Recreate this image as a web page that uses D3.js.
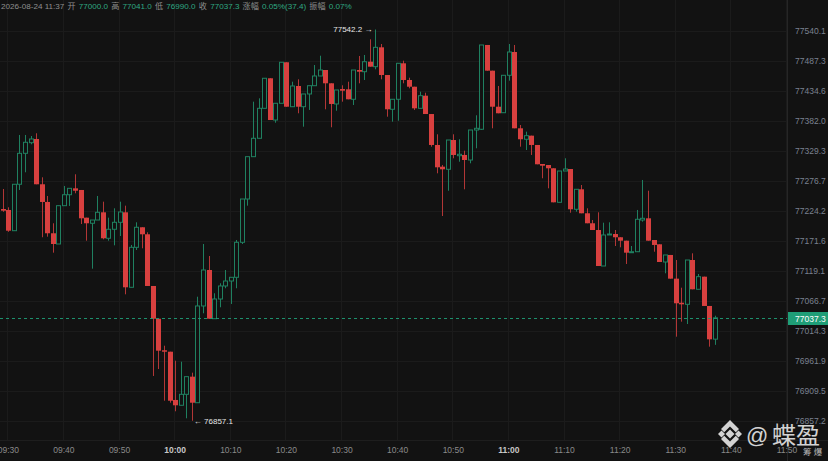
<!DOCTYPE html>
<html><head><meta charset="utf-8">
<script src="https://cdn.jsdelivr.net/npm/d3@7"></script>
<style>
html,body{margin:0;padding:0;background:#121212;}
svg{display:block;}
text{font-family:"Liberation Sans","Noto Sans CJK SC",sans-serif;}
</style></head>
<body><svg id="c" width="828" height="461"></svg>
<script>
// ---- data (1-minute candles, first at 09:29) ----
const startTime = "2026-08-24 09:29";
const opens = [77227.9,77226.2,77189.9,77271.2,77325.4,77344.0,77350.5,77271.2,77240.2,77185.4,
77166.6,77233.7,77252.9,77264.1,77261.2,77212.7,77202.9,77208.6,77222.1,77176.6,
77192.4,77204.6,77222.1,77090.8,77160.8,77195.9,77183.6,77093.1,77035.8,76980.5,
76978.0,76893.5,76884.2,76903.4,76934.3,76888.7,77058.1,77121.1,77035.8,77070.3,
77093.1,77101.8,77108.3,77169.6,77245.4,77319.5,77351.7,77404.2,77456.8,77383.7,
77413.0,77484.8,77407.0,77443.3,77407.0,77429.3,77443.8,77460.8,77471.3,77448.0,
77411.8,77438.0,77437.5,77420.0,77471.3,77468.3,77485.8,77477.1,77511.0,77462.5,
77402.5,77420.0,77483.0,77453.8,77442.0,77404.2,77426.3,77394.2,77340.0,77302.0,
77297.4,77348.7,77321.2,77322.5,77313.7,77366.2,77367.5,77515.1,77470.1,77407.0,
77396.5,77462.0,77502.8,77369.2,77350.0,77356.3,77340.0,77306.7,77304.9,77299.2,
77239.6,77294.4,77297.9,77227.4,77262.4,77220.4,77202.9,77191.1,77128.1,77182.4,
77184.1,77178.4,77172.4,77151.4,77153.1,77208.6,77211.6,77173.6,77166.1,77135.1,
77147.4,77105.9,77063.8,77061.0,77138.6,77087.3,77109.4,77058.1,77000.0];
const highs = [77262.9,77230.9,77271.2,77357.5,77357.5,77355.7,77360.5,77283.4,77250.7,77202.9,
77233.7,77268.2,77264.1,77288.7,77261.2,77212.7,77208.6,77250.7,77240.7,77212.7,
77229.1,77240.7,77233.7,77164.9,77204.6,77195.9,77187.1,77093.1,77035.8,76988.5,
76978.0,76962.3,76960.5,76934.3,76941.3,77074.3,77166.6,77145.6,77080.3,77097.8,
77121.1,77108.3,77173.6,77245.4,77319.5,77415.8,77421.7,77456.8,77456.8,77413.0,
77484.8,77484.8,77450.8,77455.0,77429.3,77443.8,77480.0,77496.3,77471.3,77448.0,
77436.3,77444.5,77450.8,77471.3,77495.8,77497.6,77525.0,77542.2,77516.8,77462.5,
77420.0,77483.0,77487.6,77457.8,77442.0,77433.3,77431.5,77394.2,77358.7,77304.9,
77348.7,77358.7,77350.0,77330.0,77366.2,77392.0,77515.1,77515.1,77470.1,77443.3,
77462.0,77516.8,77515.1,77375.0,77363.3,77356.3,77340.0,77306.7,77304.9,77299.2,
77294.4,77316.7,77297.9,77262.4,77269.9,77229.1,77208.6,77222.1,77203.9,77204.6,
77191.1,77178.4,77172.4,77163.1,77226.2,77278.7,77259.9,77173.6,77166.1,77147.4,
77147.4,77138.6,77090.1,77138.6,77150.3,77114.1,77109.4,77058.1,77041.0];
const lows = [77223.0,77188.0,77189.9,77261.2,77292.2,77341.2,77271.2,77178.4,77179.4,77151.4,
77166.6,77233.7,77233.2,77255.4,77201.6,77172.4,77123.4,77208.6,77174.8,77172.4,
77164.3,77180.6,77078.5,77090.8,77156.1,77159.1,77093.1,76935.5,76947.7,76892.2,
76888.7,76873.7,76884.2,76861.4,76857.1,76888.7,77045.3,77035.8,77035.8,77055.8,
77089.1,77061.6,77089.1,77166.6,77233.7,77319.5,77351.7,77404.2,77383.7,77379.0,
77413.0,77407.0,77407.0,77395.5,77372.0,77401.3,77443.8,77460.8,77402.5,77371.0,
77400.0,77415.8,77420.0,77410.0,77448.0,77453.8,77477.1,77472.5,77455.0,77389.5,
77380.8,77382.5,77448.0,77439.2,77401.3,77404.2,77394.2,77337.0,77290.4,77215.6,
77259.9,77316.7,77310.7,77262.4,77307.9,77334.2,77366.2,77470.1,77369.2,77395.5,
77396.5,77452.6,77369.2,77337.0,77331.2,77322.5,77306.2,77281.7,77264.1,77239.6,
77239.6,77294.4,77221.4,77223.2,77220.4,77202.9,77191.1,77128.1,77128.1,77182.4,
77163.1,77160.8,77131.6,77151.4,77153.1,77205.7,77172.4,77153.1,77135.1,77115.3,
77105.9,77004.3,77030.6,77026.5,77087.3,77087.3,77058.1,76986.8,76990.0];
const closes = [77224.9,77189.9,77271.2,77325.4,77344.7,77350.5,77271.2,77240.2,77185.4,77166.6,
77233.7,77252.9,77264.1,77259.9,77211.6,77202.9,77208.6,77222.1,77176.6,77192.4,
77204.6,77222.7,77090.8,77160.8,77195.9,77183.6,77093.1,77035.8,76979.8,76978.0,
76892.2,76884.2,76903.4,76934.3,76888.7,77058.1,77121.1,77035.8,77070.3,77093.1,
77101.8,77108.3,77169.6,77245.4,77319.5,77351.7,77404.2,77456.8,77383.7,77413.0,
77484.8,77407.0,77443.3,77407.0,77429.3,77443.8,77460.8,77471.3,77448.0,77411.8,
77436.3,77435.0,77420.0,77471.3,77468.3,77485.8,77477.1,77511.0,77462.5,77402.5,
77420.0,77483.0,77453.8,77442.0,77404.2,77426.3,77394.2,77340.0,77300.9,77297.4,
77348.7,77322.5,77323.7,77313.7,77366.2,77369.2,77515.1,77470.1,77407.0,77395.5,
77462.0,77502.8,77369.2,77350.0,77356.3,77340.0,77306.2,77303.7,77299.2,77239.6,
77294.4,77297.9,77227.4,77262.4,77220.4,77202.9,77191.1,77128.1,77182.4,77184.1,
77178.4,77172.4,77151.4,77153.1,77209.9,77211.6,77172.4,77164.9,77135.1,77147.4,
77105.9,77062.8,77061.0,77138.6,77087.3,77109.4,77058.1,76999.7,77037.3];
const yTickLabels = ["77540.1","77487.3","77434.6","77382.0","77329.3","77276.7","77224.2",
"77171.6","77119.1","77066.7","77014.3","76961.9","76909.5","76857.2"];
const xTickLabels = ["09:30","09:40","09:50","10:00","10:10","10:20","10:30","10:40","10:50","11:00","11:10","11:20","11:30","11:40","11:50"];
const lastPrice = 77037.3;
const maxLabel = "77542.2", minLabel = "76857.1";
const header = [["2026-08-24 11:37",0],["开",0],["77000.0",1],["高",0],["77041.0",1],["低",0],["76990.0",1],["收",0],["77037.3",1],["涨幅",0],["0.05%(37.4)",1],["振幅",0],["0.07%",1]];

// ---- drawing ----
const W=828,H=461, plotR=787;
const BG="#121212", GRID="#1b1b1b", UP="#1f8060", DOWN="#d8403f", DOWNW="#b23636";
const svg=d3.select("#c");
svg.append("rect").attr("width",W).attr("height",H).attr("fill",BG);

const parse=d3.timeParse("%Y-%m-%d %H:%M");
const t0=parse(startTime);
const times=opens.map((_,i)=>d3.timeMinute.offset(t0,i));
const x=d3.scaleTime().domain([parse("2026-08-24 09:30"),parse("2026-08-24 11:50")]).range([8.3,787]);
const y=d3.scaleLinear().domain([76857.2,77540.1]).range([420.7,30.7]);

// grid
const g=svg.append("g");
yTickLabels.forEach(s=>{
  const yy=Math.round(y(+s))+0.5;
  g.append("line").attr("x1",0).attr("x2",plotR).attr("y1",yy).attr("y2",yy).attr("stroke",GRID);
});
xTickLabels.forEach(s=>{
  const xx=Math.round(x(parse("2026-08-24 "+s)))-0.5;
  g.append("line").attr("x1",xx).attr("x2",xx).attr("y1",0).attr("y2",441).attr("stroke",GRID);
});
g.append("line").attr("x1",plotR+0.5).attr("x2",plotR+0.5).attr("y1",0).attr("y2",H).attr("stroke","#262626");
g.append("line").attr("x1",0).attr("x2",W).attr("y1",440.5).attr("y2",440.5).attr("stroke","#1e1e1e");

// candles
const cg=svg.append("g");
const bw=4;
times.forEach((t,i)=>{
  const o=opens[i],h=highs[i],l=lows[i],c=closes[i];
  const up=c>=o;
  const xc=Math.round(x(t));
  cg.append("line").attr("x1",xc+0.5).attr("x2",xc+0.5)
    .attr("y1",y(h)).attr("y2",y(l)).attr("stroke",up?UP:DOWNW).attr("stroke-width",1);
  const top=y(Math.max(o,c)), bot=y(Math.min(o,c));
  const hgt=Math.max(1,bot-top);
  if(up){
    cg.append("rect").attr("x",xc-1.5).attr("y",top).attr("width",bw).attr("height",hgt)
      .attr("fill",BG).attr("stroke",UP).attr("stroke-width",1);
  } else {
    cg.append("rect").attr("x",xc-2).attr("y",top).attr("width",bw+1).attr("height",hgt)
      .attr("fill",DOWN);
  }
});

// last price dashed line + tag
const ly=Math.round(y(lastPrice))+0.5;
svg.append("line").attr("x1",0).attr("x2",plotR).attr("y1",ly).attr("y2",ly)
  .attr("stroke","#1f9e77").attr("stroke-dasharray","3,3").attr("opacity",0.9);

// y labels
yTickLabels.forEach(s=>{
  svg.append("text").attr("x",795).attr("y",y(+s)+3).attr("font-size",8.5)
    .attr("fill","#7a8190").text(s);
});
svg.append("rect").attr("x",788).attr("y",ly-6.5).attr("width",40).attr("height",13).attr("fill","#1f9e77");
svg.append("text").attr("x",795).attr("y",ly+3).attr("font-size",8.5).attr("fill","#ffffff").text(lastPrice.toFixed(1));

// x labels
xTickLabels.forEach(s=>{
  const bold = s==="10:00"||s==="11:00";
  svg.append("text").attr("x",x(parse("2026-08-24 "+s))).attr("y",453).attr("text-anchor","middle")
    .attr("font-size",8.5).attr("font-weight",bold?"bold":"normal")
    .attr("fill",bold?"#c8c8c8":"#8a8a8a").text(s);
});

// max / min annotations
const iMax=highs.indexOf(d3.max(highs)), iMin=lows.indexOf(d3.min(lows));
const xm=x(times[iMax]);
svg.append("text").attr("x",xm-3).attr("y",y(highs[iMax])+2).attr("text-anchor","end")
  .attr("font-size",8).attr("fill","#e6e6e6").text(maxLabel+" \u2192");
const xn=x(times[iMin]);
svg.append("text").attr("x",xn+2).attr("y",y(lows[iMin])+3).attr("font-size",8)
  .attr("fill","#e6e6e6").text("\u2190 "+minLabel);

// header
const ht=svg.append("text").attr("x",1).attr("y",9).attr("font-size",8.1);
header.forEach(([s,k],i)=>{
  ht.append("tspan").attr("dx",i?3.2:0).attr("fill",k?"#2fa882":"#8f8f8f").text(s);
});

// watermark
const wm=svg.append("g").attr("fill","#e8e8e8").attr("opacity",0.9);
const lg=wm.append("g").attr("transform","translate(730,434)");
lg.append("path").attr("d","M0,-4.5L4.5,0L0,4.5L-4.5,0Z");
lg.append("path").attr("d","M-12,0L-8.5,-3.5L-5,0L-8.5,3.5Z");
lg.append("path").attr("d","M12,0L8.5,-3.5L5,0L8.5,3.5Z");
lg.append("path").attr("d","M0,-14L9,-5L5.8,-1.8L0,-7.6L-5.8,-1.8L-9,-5Z");
lg.append("path").attr("d","M0,14L9,5L5.8,1.8L0,7.6L-5.8,1.8L-9,5Z");
wm.append("text").attr("x",746).attr("y",443).attr("font-size",22).attr("font-family","DejaVu Sans").text("@");
wm.append("text").attr("x",772).attr("y",444).attr("font-size",24).attr("font-family","Noto Sans CJK SC").text("蝶盈");
svg.append("text").attr("x",803).attr("y",455).attr("font-size",8.5).attr("fill","#bdbdbd")
  .attr("font-family","Noto Sans CJK SC").text("筹 爆");
</script></body></html>
